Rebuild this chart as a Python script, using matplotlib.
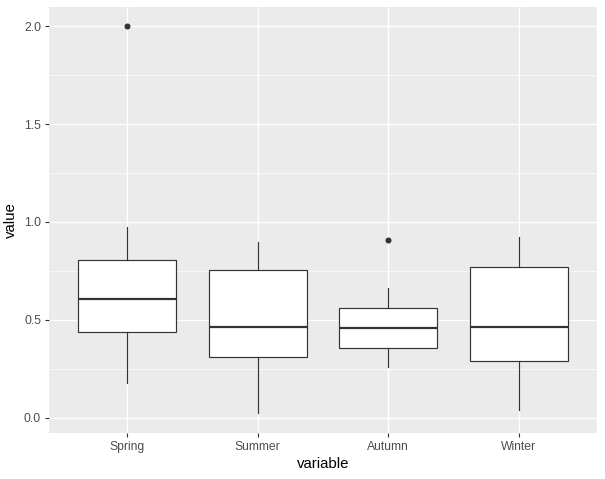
#!/usr/bin/env python3
"""
Seasonal boxplot, ggplot2 look (grey panel, white grid).
"""

import matplotlib
matplotlib.use("Agg")
import matplotlib.pyplot as plt

# Data
seasons = ["Spring", "Summer", "Autumn", "Winter"]
whisker_low = [0.177, 0.024, 0.257, 0.037]
q1 = [0.438, 0.310, 0.356, 0.290]
medians = [0.604, 0.465, 0.456, 0.461]
q3 = [0.805, 0.754, 0.560, 0.770]
whisker_high = [0.975, 0.897, 0.664, 0.924]
outliers = [[2.0], [], [0.908], []]

plt.rcParams['font.family'] = ['Liberation Sans', 'DejaVu Sans']

stats = []
for i, name in enumerate(seasons):
    stats.append({
        'label': name,
        'whislo': whisker_low[i],
        'q1': q1[i],
        'med': medians[i],
        'q3': q3[i],
        'whishi': whisker_high[i],
        'fliers': outliers[i],
    })

fig = plt.figure(figsize=(6.05, 4.79), dpi=100)
ax = fig.add_axes([49 / 605, 46 / 479, 548 / 605, 426 / 479])
ax.set_facecolor('#EBEBEB')
for s in ax.spines.values():
    s.set_visible(False)

positions = list(range(1, len(seasons) + 1))
line_col = '#333333'
ax.bxp(stats, positions=positions, widths=0.75, patch_artist=True,
       showcaps=False,
       boxprops=dict(facecolor='white', edgecolor=line_col, linewidth=0.85),
       whiskerprops=dict(color=line_col, linewidth=0.85),
       medianprops=dict(color=line_col, linewidth=1.6),
       flierprops=dict(marker='o', markerfacecolor=line_col,
                       markeredgecolor=line_col, markersize=3.3),
       zorder=3)

ax.set_xlim(0.4, 4.6)
ax.set_ylim(-0.079, 2.099)
ax.set_xticks(positions)
ax.set_xticklabels(seasons)
ax.set_yticks([0.0, 0.5, 1.0, 1.5, 2.0])
ax.set_yticklabels(['0.0', '0.5', '1.0', '1.5', '2.0'])
ax.set_yticks([0.25, 0.75, 1.25, 1.75], minor=True)

ax.grid(True, which='major', color='white', linewidth=1.0, zorder=0)
ax.grid(True, which='minor', axis='y', color='white', linewidth=0.5, zorder=0)
ax.set_axisbelow(True)

ax.tick_params(axis='both', which='major', length=2.7, width=0.8,
               color=line_col, labelcolor='#4D4D4D', labelsize=8.7, pad=3)
ax.tick_params(axis='both', which='minor', length=0)

ax.set_xlabel('variable', fontsize=10.8, color='black', labelpad=3)
ax.set_ylabel('value', fontsize=10.8, color='black', labelpad=4)

fig.savefig('out.png', dpi=100)
